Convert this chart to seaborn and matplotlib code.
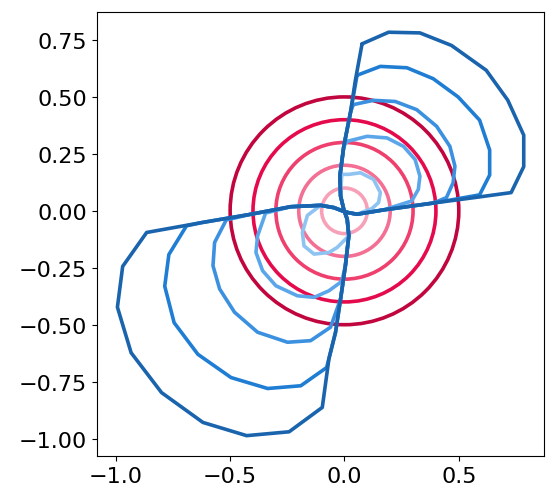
import matplotlib
matplotlib.use("Agg")
import matplotlib.pyplot as plt
import seaborn as sns

# radii of the reference circles (pink) and their colours, small -> large
radii = [0.1, 0.2, 0.3, 0.4, 0.5]
circle_colors = ["#f7a1b8", "#f36f93", "#ee3f6d", "#e50a4c", "#c1063f"]

# blue curves (images of the circles), small -> large
curve_colors = ["#8ec3f2", "#5ba6ea", "#3b91e0", "#1f7ed4", "#1a64ad"]

curve5_x = [-0.012, 0.019, 0.07, 0.127, 0.157, 0.149, 0.12,
            0.055, 0.017, -0.01, -0.046, -0.104,
            -0.162, -0.184, -0.177, -0.133, -0.068, -0.032,
            0.019, 0.012, -0.003, -0.017, -0.012]
curve5_y = [0.16, 0.16, 0.167, 0.138, 0.08, 0.036, 0.01,
            -0.015, -0.008, 0.0, 0.014, 0.024,
            -0.02, -0.095, -0.154, -0.19, -0.183, -0.161,
            -0.110, -0.037, 0.006, 0.065, 0.16]

curve4_x = [0.012, 0.099, 0.186, 0.258, 0.309, 0.33, 0.323, 0.294,
            0.171, 0.055, 0.017, -0.01, -0.046, -0.104, -0.235,
            -0.345, -0.38, -0.387, -0.358, -0.3, -0.206, -0.133, -0.068,
            -0.012, 0.004, 0.019, 0.012, -0.003, -0.017, -0.02, -0.003, 0.012]
curve4_y = [0.305, 0.327, 0.32, 0.283, 0.225, 0.152, 0.094, 0.043,
            0.004, -0.015, -0.008, 0.0, 0.014, 0.024, 0.018,
            -0.01, -0.11, -0.183, -0.263, -0.329, -0.373, -0.38, -0.351,
            -0.31, -0.241, -0.110, -0.037, 0.006, 0.065, 0.152, 0.283, 0.305]

curve3_x = [0.038, 0.127, 0.222, 0.316, 0.403, 0.461, 0.483, 0.475, 0.446,
            0.388, 0.171, 0.055, 0.017, -0.01, -0.046, -0.104, -0.235, -0.409,
            -0.517, -0.568, -0.575, -0.546, -0.481, -0.38, -0.249, -0.148, -0.061,
            -0.017, 0.004, 0.019, 0.012, -0.003, -0.017, -0.02, -0.003, 0.026, 0.038]
curve3_y = [0.466, 0.485, 0.48, 0.444, 0.371, 0.283, 0.196, 0.123, 0.058,
            0.034, 0.004, -0.015, -0.008, 0.0, 0.014, 0.024, 0.018, -0.015,
            -0.04, -0.139, -0.241, -0.343, -0.445, -0.533, -0.577, -0.57, -0.511,
            -0.387, -0.241, -0.110, -0.037, 0.006, 0.065, 0.152, 0.283, 0.43, 0.466]

curve2_x = [0.055, 0.157, 0.273, 0.388, 0.497, 0.591, 0.635, 0.635, 0.591,
            0.388, 0.171, 0.055, 0.017, -0.01, -0.046, -0.104, -0.235, -0.409, -0.626,
            -0.691, -0.768, -0.786, -0.745, -0.641, -0.496, -0.336, -0.191, -0.078,
            -0.039, -0.017, 0.004, 0.019, 0.012, -0.003, -0.017, -0.02, -0.003, 0.026, 0.055]
curve2_y = [0.595, 0.634, 0.628, 0.580, 0.5, 0.398, 0.267, 0.157, 0.07,
            0.034, 0.004, -0.015, -0.008, 0.0, 0.014, 0.024, 0.018, -0.015, -0.052,
            -0.066, -0.192, -0.331, -0.491, -0.63, -0.732, -0.78, -0.768, -0.688,
            -0.533, -0.387, -0.241, -0.110, -0.037, 0.006, 0.065, 0.152, 0.283, 0.43, 0.595]

curve1_x = [0.077, 0.193, 0.330, 0.468, 0.620, 0.714, 0.784, 0.784, 0.729,
            0.59, 0.388, 0.171, 0.055, 0.017, -0.01, -0.046, -0.104, -0.235, -0.409, -0.626,
            -0.865, -0.970, -0.993, -0.933, -0.800, -0.619, -0.428, -0.242, -0.097,
            -0.068, -0.039, -0.017, 0.004, 0.019, 0.012,
            -0.003, -0.017, -0.02, -0.003, 0.026, 0.048, 0.077]
curve1_y = [0.733, 0.784, 0.781, 0.726, 0.617, 0.486, 0.332, 0.194, 0.080,
            0.061, 0.034, 0.004, -0.015, -0.008, 0.0, 0.014, 0.024, 0.018, -0.015, -0.052,
            -0.095, -0.244, -0.423, -0.623, -0.798, -0.929, -0.987, -0.970, -0.863,
            -0.65, -0.533, -0.387, -0.241, -0.110, -0.037,
            0.006, 0.065, 0.152, 0.283, 0.43, 0.575, 0.733]

curves_x = [curve5_x, curve4_x, curve3_x, curve2_x, curve1_x]
curves_y = [curve5_y, curve4_y, curve3_y, curve2_y, curve1_y]

sns.set_style("ticks", {"axes.edgecolor": "black", "xtick.color": "black",
                        "ytick.color": "black", "text.color": "black"})
fig, ax = plt.subplots(figsize=(5.58, 5.02), dpi=100)
fig.subplots_adjust(left=0.174, right=0.975, bottom=0.09, top=0.974)

# circle then its image, small to large
for r, cc, bc, cx, cy in zip(radii, circle_colors, curve_colors, curves_x, curves_y):
    ax.add_patch(plt.Circle((0, 0), r, fill=False, edgecolor=cc, linewidth=2.6))
    sns.lineplot(x=cx, y=cy, sort=False, estimator=None, color=bc,
                 linewidth=2.6, ax=ax)

ax.tick_params(labelsize=16, colors="black")
fig.savefig("out.png", dpi=100)
